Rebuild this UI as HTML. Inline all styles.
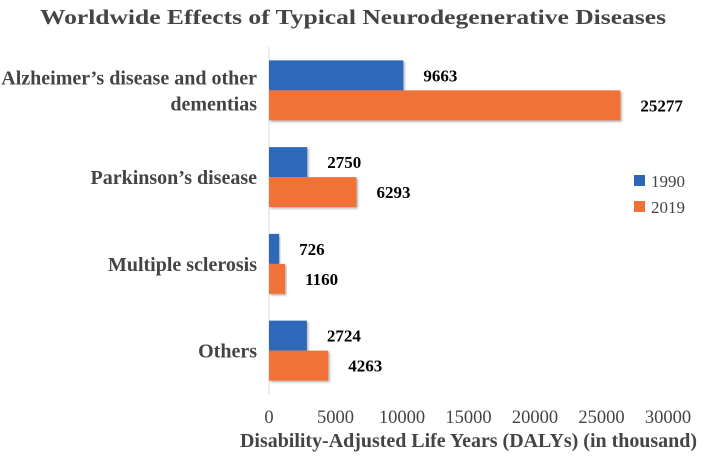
<!DOCTYPE html>
<html><head><meta charset="utf-8"><style>
body{margin:0;background:#fff;}
svg text{font-family:"Liberation Serif",serif;}
</style></head><body>
<svg id="chart" width="704" height="454" viewBox="0 0 704 454">
<defs><filter id="sh" x="-5%" y="-5%" width="115%" height="130%"><feDropShadow dx="1.5" dy="1.5" stdDeviation="1" flood-color="#000" flood-opacity="0.3"/></filter></defs>
<text x="40" y="24" textLength="626" lengthAdjust="spacingAndGlyphs" font-size="21" font-weight="bold" fill="#444">Worldwide Effects of Typical Neurodegenerative Diseases</text>
<g id="plot"></g>
<text x="240" y="447" textLength="457" lengthAdjust="spacingAndGlyphs" font-size="20" font-weight="bold" fill="#444">Disability-Adjusted Life Years (DALYs) (in thousand)</text>
<g>
<rect x="634" y="175" width="11" height="11" fill="#2e67b8"/>
<text x="651" y="187" font-size="17" fill="#444">1990</text>
<rect x="634" y="201" width="11" height="11" fill="#f07237"/>
<text x="651" y="213" font-size="17" fill="#444">2019</text>
</g>
</svg>
<script>
const categories=[["Alzheimer’s disease and other","dementias"],["Parkinson’s disease"],["Multiple sclerosis"],["Others"]];
const values1990=[9663,2750,726,2724];
const values2019=[25277,6293,1160,4263];
const ticks=[0,5000,10000,15000,20000,25000,30000];
const NS="http://www.w3.org/2000/svg";
const g=document.getElementById('plot');
const x0=269,x1=686,xMax=30000,yTop=47,band=86.75,bh=30;
const xs=v=>x0+v/xMax*(x1-x0);
const yc=i=>yTop+band*(i+0.5);
const tickX=v=>x0+v/xMax*(668-x0);
function mk(t,a){const e=document.createElementNS(NS,t);for(const k in a)e.setAttribute(k,a[k]);g.appendChild(e);return e;}
let ax=mk('line',{x1:x0,x2:x0,y1:yTop,y2:yTop+band*4,stroke:'#d9d9d9','stroke-width':1});


ticks.forEach(t=>{const e=mk('text',{x:tickX(t),y:423,'text-anchor':'middle','font-size':18.5,fill:'#444'});e.textContent=t;

});
categories.forEach((c,i)=>{
 const cy=yc(i);
 const lab=mk('text',{x:257,'text-anchor':'end','font-size':20,'font-weight':'bold',fill:'#444'});
 
 
 c.forEach((line,j)=>{const ts=document.createElementNS(NS,'tspan');ts.setAttribute('x',257);ts.setAttribute('y',cy+7+(j-(c.length-1)/2)*26);ts.textContent=line;lab.appendChild(ts);});
 [[values1990,'#2e67b8',-bh,'1990'],[values2019,'#f07237',0,'2019']].forEach(([arr,col,off,yr])=>{
  const v=arr[i];
  const r=mk('rect',{x:x0,y:cy+off,width:xs(v)-x0,height:bh,fill:col,filter:'url(#sh)'});
  
  
  const t=mk('text',{x:xs(v)+20,y:cy+off+bh/2+6,'font-size':17,'font-weight':'bold',fill:'#000'});
  t.textContent=v;
  
  
 });
});
</script>
</body></html>
